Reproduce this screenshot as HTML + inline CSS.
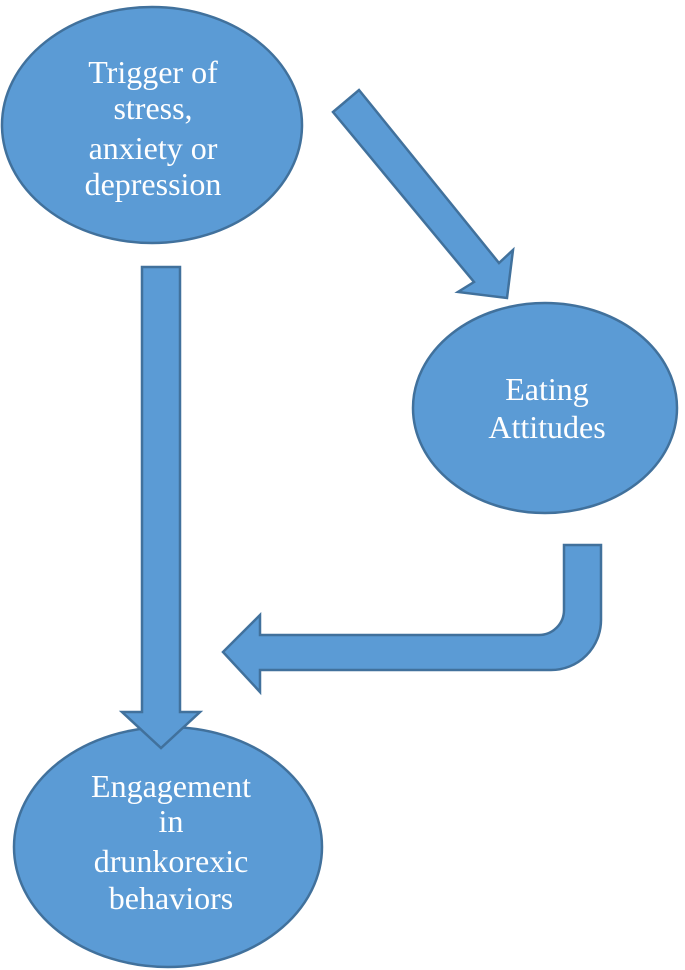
<!DOCTYPE html>
<html><head><style>
body{margin:0;background:#fff;}
svg{display:block;}
text{font-family:"Liberation Serif",serif;font-size:32px;fill:#fff;text-anchor:middle;}
</style></head><body>
<svg width="685" height="970" viewBox="0 0 685 970">
<g fill="#5b9bd5" stroke="#41719c" stroke-width="2.5" stroke-linejoin="miter">
<ellipse cx="152" cy="125" rx="150" ry="118"/>
<ellipse cx="545" cy="408" rx="132" ry="105"/>
<ellipse cx="168" cy="847" rx="154" ry="120"/>
<path d="M142,267 L180,267 L180,712 L200,712 L161,748 L122,712 L142,712 Z"/>
<path d="M333,112 L359,90 L499,263 L513,250 L507,298 L458,292 L474,282 Z"/>
<path d="M564,545 L601,545 L601,620 A50,50 0 0 1 551,670 L260,670 L260,692 L223,652 L260,615 L260,635 L539,635 A25,25 0 0 0 564,610 Z"/>
</g>
<text x="153" y="83">Trigger of</text>
<text x="153" y="119">stress,</text>
<text x="153" y="159">anxiety or</text>
<text x="153" y="195">depression</text>
<text x="547" y="400">Eating</text>
<text x="547" y="438">Attitudes</text>
<text x="171" y="797">Engagement</text>
<text x="171" y="832">in</text>
<text x="171" y="872">drunkorexic</text>
<text x="171" y="909">behaviors</text>
</svg>
</body></html>
